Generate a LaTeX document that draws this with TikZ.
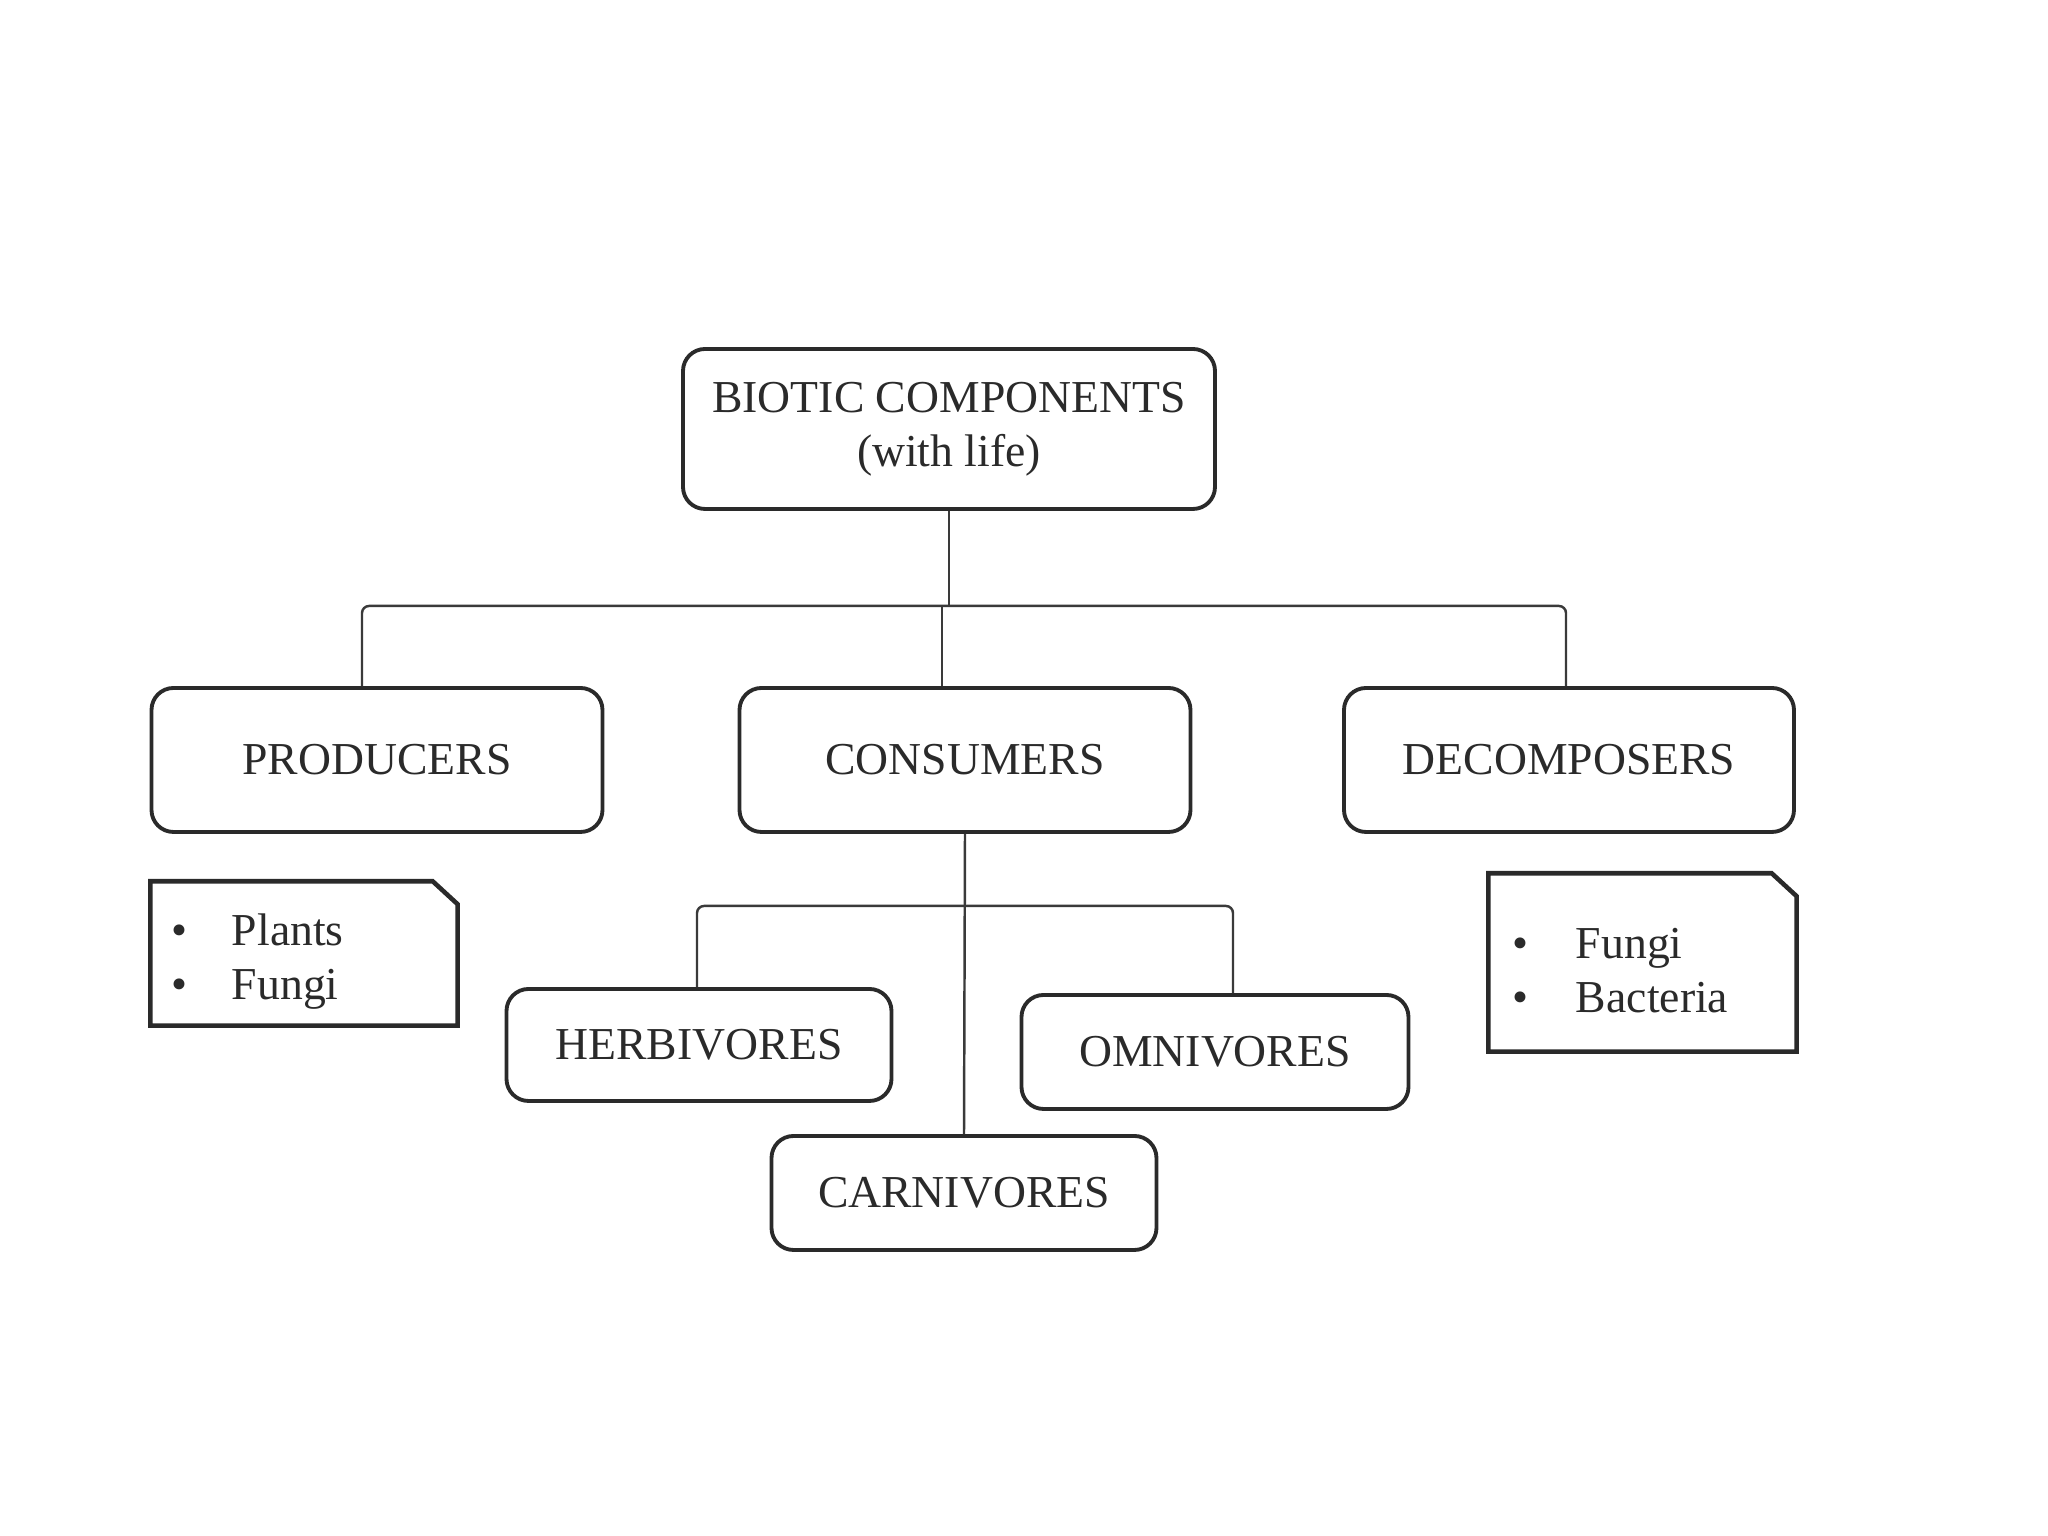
\documentclass[tikz,border=0pt]{standalone}
\usepackage{fontspec}
\setmainfont{Liberation Serif}
\usetikzlibrary{calc}
\definecolor{ink}{HTML}{2A2A2A}
\definecolor{linie}{HTML}{3A3A3A}
\tikzset{
  group/.style={draw=ink,line width=1.1pt,rounded corners=0.22cm,align=center,
    text=ink,font=\fontsize{13}{15.3}\selectfont,inner sep=0pt},
  notebox/.style={inner sep=0pt},
  notelist/.style={text=ink,font=\fontsize{13}{15.6}\selectfont,inner sep=0pt,anchor=west},
  conn/.style={linie,line width=0.7pt,rounded corners=2pt}
}
\newcommand{\dogear}[1]{%
  \draw[ink,line width=1.3pt] (#1.south west) -- (#1.north west)
    -- ([xshift=-0.25cm]#1.north east) -- ([yshift=-0.23cm]#1.north east)
    -- (#1.south east) -- cycle;}

\begin{document}
\begin{tikzpicture}
  \useasboundingbox (0,0) rectangle (20.48,15.36);
  % top level
  \node[group,minimum width=5.32cm,minimum height=1.60cm] (bio) at (9.49,11.07)
    {BIOTIC COMPONENTS\\(with life)};
  \node[group,minimum width=4.51cm,minimum height=1.44cm] (prod) at (3.77,7.76) {PRODUCERS};
  \node[group,minimum width=4.51cm,minimum height=1.44cm] (cons) at (9.65,7.76) {CONSUMERS};
  \node[group,minimum width=4.50cm,minimum height=1.44cm] (decomp) at (15.69,7.76) {DECOMPOSERS};
  % consumer kinds
  \node[group,minimum width=3.85cm,minimum height=1.12cm] (herb) at (6.99,4.91) {HERBIVORES};
  \node[group,minimum width=3.87cm,minimum height=1.14cm] (omni) at (12.15,4.84) {OMNIVORES};
  \node[group,minimum width=3.85cm,minimum height=1.14cm] (carn) at (9.64,3.43) {CARNIVORES};
  % notes
  \node[notebox,minimum width=3.06cm,minimum height=1.43cm] (prodnote) at (3.04,5.825) {};
  \node[notebox,minimum width=3.07cm,minimum height=1.77cm] (decnote) at (16.425,5.735) {};
  \dogear{prodnote}
  \dogear{decnote}
  \node[notelist] (prodlist) at ([xshift=0.2cm,yshift=-0.08cm]prodnote.west)
    {\begin{tabular}{@{}l@{\hspace{0.45cm}}l@{}}\textbullet & Plants\\ \textbullet & Fungi\end{tabular}};
  \node[notelist] (declist) at ([xshift=0.23cm,yshift=-0.12cm]decnote.west)
    {\begin{tabular}{@{}l@{\hspace{0.48cm}}l@{}}\textbullet & Fungi\\ \textbullet & Bacteria\end{tabular}};
  % connectors
  \coordinate (busL) at (3.62,9.30);
  \coordinate (busR) at (15.66,9.30);
  \draw[conn] (prod.north -| busL) -- (busL) -- (busR) -- (decomp.north -| busR);
  \draw[conn] (bio.south) -- (bio.south |- busL);
  \draw[conn] ([xshift=-0.23cm]cons.north) -- ([xshift=-0.23cm]cons.north |- busL);
  \coordinate (subL) at (6.97,6.30);
  \coordinate (subR) at (12.33,6.30);
  \draw[conn] (herb.north -| subL) -- (subL) -- (subR) -- (omni.north -| subR);
  \draw[conn] (cons.south) -- (carn.north);
\end{tikzpicture}
\end{document}
